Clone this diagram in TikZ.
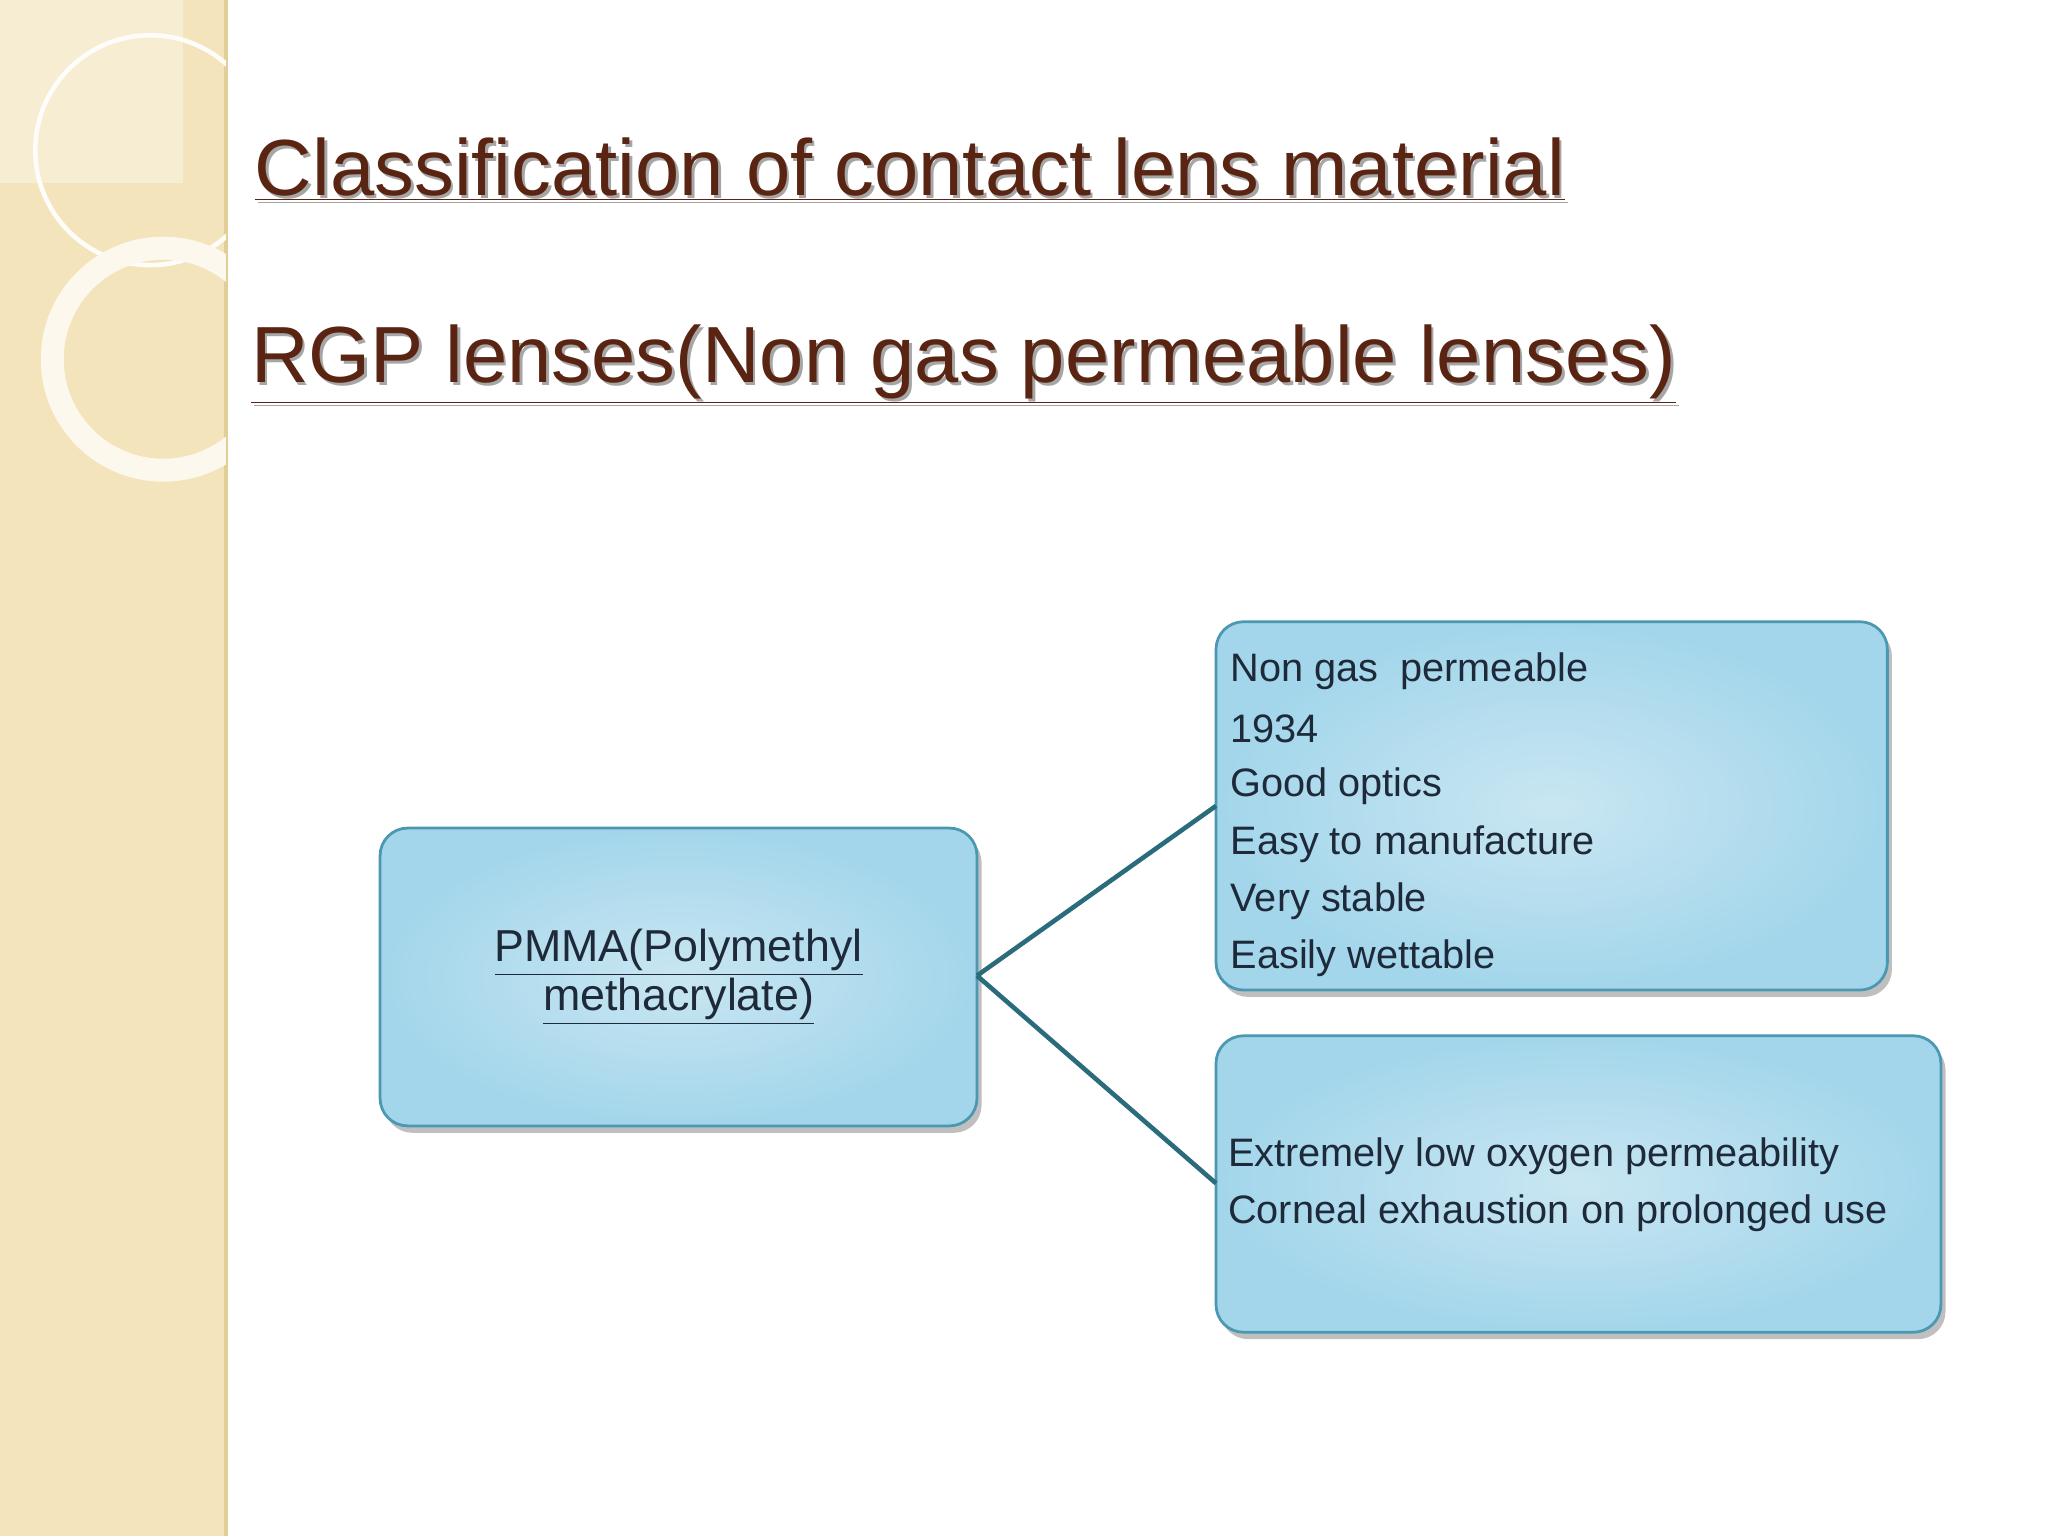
\documentclass[tikz,border=0pt]{standalone}
\usepackage{fontspec}
\setmainfont{Liberation Sans}
\usetikzlibrary{shadows}
\definecolor{band}{HTML}{F3E4BC}
\definecolor{bandedge}{HTML}{E2CF98}
\definecolor{ttl}{HTML}{5A2412}
\definecolor{boxedge}{HTML}{4A98B2}
\definecolor{conn}{HTML}{2B6C7C}
\definecolor{txt}{HTML}{1E2A3A}
\definecolor{boxin}{HTML}{C9E6F2}
\definecolor{boxout}{HTML}{A3D6EB}
\tikzset{
  lbox/.style={draw=boxedge, line width=1.2pt, rounded corners=12pt, inner color=boxin, outer color=boxout,
    drop shadow={shadow xshift=2pt, shadow yshift=-3pt, fill=black, opacity=0.25}},
  conline/.style={draw=conn, line width=2pt},
  btext/.style={font=\fontsize{17.3}{25}\selectfont, text=txt, align=left, anchor=west}
}
\begin{document}
\begin{tikzpicture}[x=0.02cm,y=-0.02cm]
\useasboundingbox (0,0) rectangle (1568,1176);
\fill[white] (0,0) rectangle (1568,1176);
\fill[band] (0,0) rectangle (173,1176);
\draw[bandedge, line width=1.5pt] (173,0) -- (173,1176);
\begin{scope}
\clip (0,0) rectangle (173,1176);
\fill[white, opacity=0.35] (0,0) rectangle (140,140);
\draw[white!92!band, line width=2pt] (115,115) circle (88);
\draw[white!75!band, line width=10pt] (125,275) circle (85);
\end{scope}
\node[anchor=base west, text=black!35, font=\fontsize{34.7}{40}\selectfont] (t1s) at (191,152) {\underline{Classification of contact lens material}};
\node[anchor=base west, text=ttl, font=\fontsize{34.7}{40}\selectfont] (t1) at (189,150) {\underline{Classification of contact lens material}};
\node[anchor=base west, text=black!35, font=\fontsize{34.7}{40}\selectfont] (t2s) at (188,295) {\underline{RGP lenses(Non gas permeable lenses)}};
\node[anchor=base west, text=ttl, font=\fontsize{34.7}{40}\selectfont] (t2) at (186,293) {\underline{RGP lenses(Non gas permeable lenses)}};

\path[lbox] (291,634) rectangle (748,862);
\coordinate (pr) at (748,747);
\node[font=\fontsize{19.5}{20}\selectfont, text=txt, align=center] (pmma) at (519.5,748) {\underline{PMMA(Polymethyl}\\\underline{methacrylate)}};
\path[lbox] (931,476) rectangle (1445,758);
\path[lbox] (931,793) rectangle (1486,1020);
\coordinate (a) at (931,617);
\coordinate (b) at (931,906);
\draw[conline] (pr) -- (a);
\draw[conline] (pr) -- (b);
\node[btext] (l1) at (936,514) {Non gas\ \ permeable};
\node[btext] (l2) at (936,558) {1934};
\node[btext] (l3) at (936,602) {Good optics};
\node[btext] (l4) at (936,646) {Easy to manufacture};
\node[btext] (l5) at (936,690) {Very stable};
\node[btext] (l6) at (936,734) {Easily wettable};
\node[btext] (m1) at (934,885) {Extremely low oxygen permeability};
\node[btext] (m2) at (934,929) {Corneal exhaustion on prolonged use};
\end{tikzpicture}
\end{document}
